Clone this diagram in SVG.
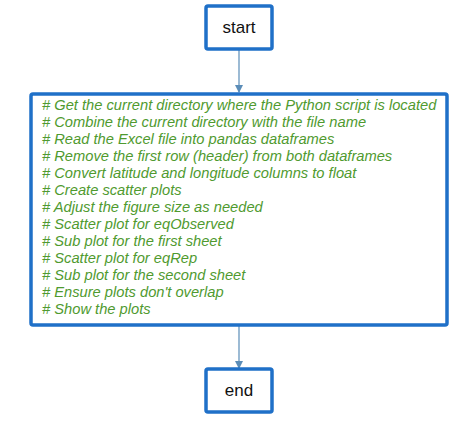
<svg xmlns="http://www.w3.org/2000/svg" width="474" height="433" viewBox="0 0 474 433">
<defs>
<marker id="arr" markerWidth="8" markerHeight="8" refX="7" refY="4" orient="auto" markerUnits="userSpaceOnUse">
<path d="M0,0 L8,4 L0,8 Z" fill="#5b8db8"/>
</marker>
<style>
.box{fill:#fff;stroke:#1f70c8;stroke-width:3.5}
.lbl{font-family:"Liberation Sans",Arial,sans-serif;font-size:17px;fill:#111;text-anchor:middle}
.code{font-family:"Liberation Sans",Arial,sans-serif;font-size:14.7px;font-style:italic;fill:#4f9a2f}
.conn{stroke:#5b8db8;stroke-width:1.2;fill:none}
</style>
</defs>
<rect width="474" height="433" fill="#fff"/>
<g id="connectors">
<line class="conn" x1="239" y1="49" x2="239" y2="92" marker-end="url(#arr)"/>
<line class="conn" x1="239" y1="326" x2="239" y2="368" marker-end="url(#arr)"/>
</g>
<g id="start">
<rect class="box" x="206" y="6" width="66" height="43" rx="2"/>
<text class="lbl" x="239" y="33">start</text>
</g>
<g id="process">
<rect class="box" x="31" y="94" width="416" height="231" rx="2"/>
<text class="code" x="42" y="110">
<tspan x="42" y="110"># Get the current directory where the Python script is located</tspan>
<tspan x="42" y="127"># Combine the current directory with the file name</tspan>
<tspan x="42" y="144"># Read the Excel file into pandas dataframes</tspan>
<tspan x="42" y="161"># Remove the first row (header) from both dataframes</tspan>
<tspan x="42" y="178"># Convert latitude and longitude columns to float</tspan>
<tspan x="42" y="195"># Create scatter plots</tspan>
<tspan x="42" y="212"># Adjust the figure size as needed</tspan>
<tspan x="42" y="229"># Scatter plot for eqObserved</tspan>
<tspan x="42" y="246"># Sub plot for the first sheet</tspan>
<tspan x="42" y="263"># Scatter plot for eqRep</tspan>
<tspan x="42" y="280"># Sub plot for the second sheet</tspan>
<tspan x="42" y="297"># Ensure plots don't overlap</tspan>
<tspan x="42" y="314"># Show the plots</tspan>
</text>
</g>
<g id="end">
<rect class="box" x="206" y="369" width="66" height="43" rx="2"/>
<text class="lbl" x="239" y="396">end</text>
</g>
</svg>
